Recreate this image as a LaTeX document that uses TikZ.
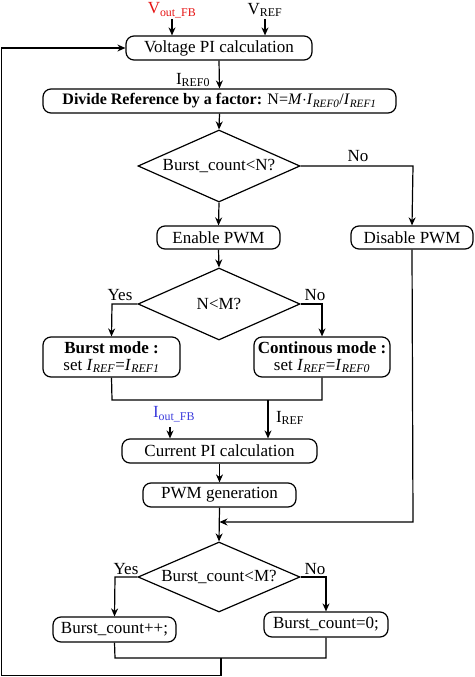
\documentclass[tikz,border=0pt]{standalone}
\usepackage{fontspec}
\setmainfont{Liberation Serif}
\usetikzlibrary{shapes.geometric,arrows.meta}
\newcommand{\mysub}[1]{\textsubscript{#1}}
\newcommand{\isb}[1]{\textit{I}\textsubscript{\textit{#1}}}
\definecolor{fbred}{RGB}{230,20,20}
\definecolor{fbblue}{RGB}{60,60,220}
\begin{document}
\begin{tikzpicture}[x=1pt,y=-1pt,
  font=\fontsize{17}{19}\selectfont,
  box/.style={draw,line width=1.2pt,rounded corners=8pt,inner sep=0pt,align=center},
  dia/.style={draw,diamond,aspect=2.25,line width=1.2pt,inner sep=0pt,minimum width=162pt,minimum height=72pt},
  arr/.style={-{Stealth[length=8pt,width=7pt]}},
  ln/.style={line width=1.2pt},
  lbl/.style={inner sep=0pt}]
\useasboundingbox (0,0) rectangle (474,677);
\begin{scope}[ln]
\node[box,minimum width=186pt,minimum height=24pt] (vpi) at (219,48) {Voltage PI calculation};
\node[box,minimum width=353pt,minimum height=24pt,font=\fontsize{16}{18}\selectfont] (div) at (219.5,101) {\textbf{Divide Reference by a factor:} N=\textit{M}$\cdot$\isb{REF0}/\isb{REF1}};
\node[dia] (d1) at (219,166) {Burst\_count<N?};
\node[box,minimum width=123pt,minimum height=23pt] (en) at (218.5,237.5) {Enable PWM};
\node[box,minimum width=122pt,minimum height=23pt] (dis) at (412,237.5) {Disable PWM};
\node[dia] (d2) at (219,304) {N<M?};
\node[box,minimum width=137pt,minimum height=40pt] (burst) at (111.5,357) {\textbf{Burst mode :}\\[-2pt] set \isb{REF}=\isb{REF1}};
\node[box,minimum width=136pt,minimum height=40pt] (cont) at (322,357) {\textbf{Continous mode :}\\[-2pt] set \isb{REF}=\isb{REF0}};
\node[box,minimum width=195pt,minimum height=24pt] (cpi) at (219.5,451) {Current PI calculation};
\node[box,minimum width=153pt,minimum height=24pt] (pwm) at (219.5,495) {PWM generation};
\node[dia,minimum height=70pt] (d3) at (219,577) {Burst\_count<M?};
\node[box,minimum width=123pt,minimum height=25pt] (bc1) at (114.5,629.5) {Burst\_count++;};
\node[box,minimum width=124pt,minimum height=25pt] (bc0) at (326,624.5) {Burst\_count=0;};

% input labels
\node[lbl,text=fbred] (vfbl) at (172,10) {V\mysub{out\_FB}};
\node[lbl] (vrefl) at (265,10) {V\mysub{REF}};
\coordinate (vfb) at (172,19);
\coordinate (vref) at (265,19);
\draw[arr] (vfb) -- (vfb |- vpi.north);
\draw[arr] (vref) -- (vref |- vpi.north);

\node[lbl] (iref0) at (193,80) {I\mysub{REF0}};
\draw[arr] (vpi.south) -- (div.north);
\draw[arr] (div.south) -- (d1.north);

\coordinate (d1r) at (413,166);
\draw[arr] (d1.east) -- (d1r) -- (dis.north);
\node[lbl] (no1) at (358,156) {No};
\draw[arr] (d1.south) -- (en.north);
\draw[arr] (en.south) -- (d2.north);

\coordinate (d2l) at (112,304);
\coordinate (d2r) at (322,304);
\draw[arr] (d2.west) -- (d2l) -- (burst.north);
\draw[arr] (d2.east) -- (d2r) -- (cont.north);
\node[lbl] (yes2) at (120,295) {Yes};
\node[lbl] (no2) at (315,295) {No};

\coordinate (m1l) at (112,400);
\coordinate (m1r) at (322,400);
\coordinate (m1) at (268,400);
\draw (burst.south) -- (m1l) -- (m1r) -- (cont.south);
\draw[arr] (m1) -- (m1 |- cpi.north);
\node[lbl] (irefl) at (290,418) {I\mysub{REF}};
\node[lbl,text=fbblue] (ifbl) at (174,414) {I\mysub{out\_FB}};
\coordinate (ifb) at (170,427);
\draw[arr] (ifb) -- (ifb |- cpi.north);

\draw[arr] (cpi.south) -- (pwm.north);
\draw[arr] (pwm.south) -- (d3.north);
\coordinate (disb) at (413,522);
\coordinate (join) at (219.5,522);
\draw[arr] (dis.south) -- (disb) -- (join);

\coordinate (d3l) at (115,577);
\coordinate (d3r) at (326,577);
\draw[arr] (d3.west) -- (d3l) -- (bc1.north);
\draw[arr] (d3.east) -- (d3r) -- (bc0.north);
\node[lbl] (yes3) at (126,569) {Yes};
\node[lbl] (no3) at (315,569) {No};

\coordinate (m2l) at (115,658);
\coordinate (m2r) at (326,658);
\coordinate (m2) at (221,658);
\coordinate (bot) at (221,675.5);
\coordinate (botl) at (1.5,675.5);
\coordinate (topl) at (1.5,48);
\draw (bc1.south) -- (m2l) -- (m2r) -- (bc0.south);
\draw[arr] (m2) -- (bot) -- (botl) -- (topl) -- (vpi.west);
\end{scope}
\end{tikzpicture}
\end{document}
